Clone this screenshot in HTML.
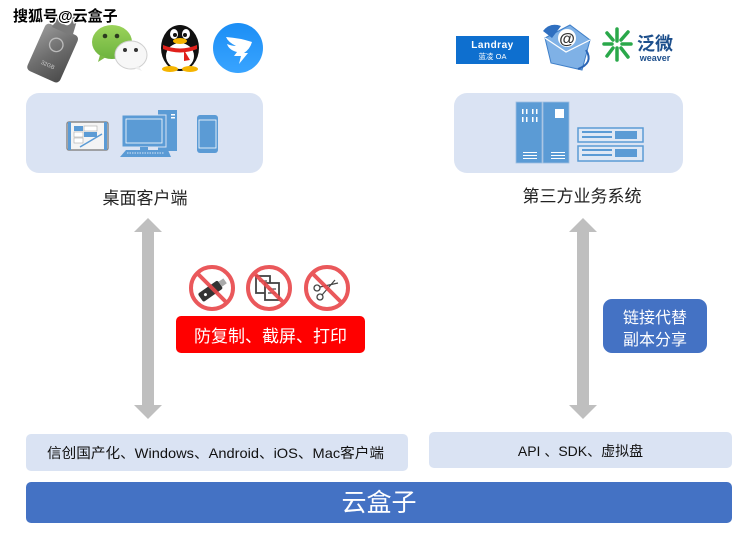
<!DOCTYPE html>
<html><head><meta charset="utf-8">
<style>
html,body{margin:0;padding:0;background:#fff;}
body{width:751px;height:549px;overflow:hidden;}
svg{display:block;}
text{font-family:"Liberation Sans","Noto Sans CJK SC",sans-serif;}
</style></head>
<body>
<svg width="751" height="549" viewBox="0 0 751 549" xmlns="http://www.w3.org/2000/svg">
<defs>
<linearGradient id="ding" x1="0" y1="0" x2="0" y2="1"><stop offset="0" stop-color="#1b8ef5"/><stop offset="1" stop-color="#39a4ff"/></linearGradient>
<linearGradient id="usb" x1="0" y1="0" x2="1" y2="1"><stop offset="0" stop-color="#9a9a9a"/><stop offset="0.5" stop-color="#6d6d6d"/><stop offset="1" stop-color="#4a4a4a"/></linearGradient>
<linearGradient id="wg" x1="0" y1="0" x2="0" y2="1"><stop offset="0" stop-color="#9bd35a"/><stop offset="1" stop-color="#6db33f"/></linearGradient>
</defs>

<!-- top-left app icons -->
<!-- USB drive -->
<g transform="translate(54 50) rotate(24) scale(1.12) translate(-54 -50)">
  <rect x="38" y="30" width="32" height="46" rx="4" fill="url(#usb)"/>
  <path d="M44 32 L46 17 Q54 10 62 17 L64 32 Z" fill="#7a7a7a"/>
  <ellipse cx="54" cy="21" rx="4" ry="4.5" fill="#fff"/>
  <circle cx="54" cy="45" r="6" fill="none" stroke="#bbb" stroke-width="1.2"/>
  <text x="48" y="66" font-size="5" fill="#ccc">32GB</text>
</g>
<!-- WeChat -->
<ellipse cx="112" cy="42" rx="20" ry="17" fill="url(#wg)"/>
<path d="M100 55 L98 62 L106 57 Z" fill="#7cba46"/>
<circle cx="105" cy="36" r="2.3" fill="#2c3a1f"/>
<circle cx="117" cy="36" r="2.3" fill="#2c3a1f"/>
<ellipse cx="131" cy="55" rx="16" ry="14" fill="#f7f7f7" stroke="#cfcfcf" stroke-width="1"/>
<path d="M138 66 L142 71 L134 68 Z" fill="#eee"/>
<circle cx="125" cy="50" r="2" fill="#333"/>
<circle cx="136" cy="50" r="2" fill="#333"/>
<!-- QQ penguin -->
<ellipse cx="180" cy="48" rx="19" ry="23" fill="#111"/>
<ellipse cx="180" cy="56" rx="14" ry="13" fill="#fff"/>
<ellipse cx="174" cy="34" rx="4" ry="5" fill="#fff"/>
<ellipse cx="186" cy="34" rx="4" ry="5" fill="#fff"/>
<circle cx="175" cy="35" r="2" fill="#111"/>
<circle cx="185" cy="35" r="2" fill="#111"/>
<ellipse cx="180" cy="41" rx="7" ry="3" fill="#f5b400"/>
<path d="M163 45 Q180 52 197 45 L197 49 Q180 56 163 49 Z" fill="#e0201b"/>
<path d="M184 50 L190 60 L184 61 Z" fill="#e0201b"/>
<ellipse cx="170" cy="69" rx="8" ry="3" fill="#f5b400"/>
<ellipse cx="190" cy="69" rx="8" ry="3" fill="#f5b400"/>
<!-- DingTalk -->
<circle cx="238" cy="48" r="25" fill="url(#ding)"/>
<path d="M226 37 Q240 38 252 42 Q250 49 244 53 L248 53 L239 64 L241 56 L234 56 L237 52 Q229 50 227 44 Q232 46 236 46 Q228 42 226 37 Z" fill="#fff"/>

<!-- watermark -->
<text x="13" y="21" font-size="15" font-weight="bold" fill="#000" stroke="#fff" stroke-width="2.5" paint-order="stroke">搜狐号@云盒子</text>

<!-- top boxes -->
<rect x="26" y="93" width="237" height="80" rx="13" fill="#dae3f3"/>
<rect x="454" y="93" width="229" height="80" rx="13" fill="#dae3f3"/>

<!-- tablet -->
<rect x="67" y="122" width="41" height="28" rx="2" fill="#f4f4f4" stroke="#8a8a8a" stroke-width="1.5"/>
<rect x="68" y="122" width="3" height="28" fill="#5b9bd5"/>
<rect x="104" y="122" width="3" height="28" fill="#5b9bd5"/>
<rect x="74" y="126" width="9" height="5" fill="#5b9bd5"/>
<rect x="84" y="126" width="13" height="5" fill="#fff" stroke="#aaa" stroke-width="0.6"/>
<rect x="74" y="132" width="9" height="5" fill="#fff" stroke="#aaa" stroke-width="0.6"/>
<rect x="84" y="132" width="13" height="5" fill="#5b9bd5"/>
<rect x="74" y="138" width="9" height="5" fill="#fff" stroke="#aaa" stroke-width="0.6"/>
<line x1="80" y1="147" x2="102" y2="134" stroke="#5b9bd5" stroke-width="1.5"/>
<!-- monitor -->
<rect x="158" y="110" width="19" height="41" fill="#5b9bd5"/>
<rect x="171" y="114" width="4" height="1.5" fill="#fff"/>
<rect x="171" y="117" width="4" height="1.5" fill="#fff"/>
<rect x="122" y="115" width="44" height="32" fill="#5b9bd5" stroke="#dae3f3" stroke-width="1"/>
<rect x="126" y="119" width="36" height="24" fill="#5b9bd5" stroke="#fff" stroke-width="0.8"/>
<rect x="140" y="147" width="8" height="3" fill="#5b9bd5"/>
<path d="M126 150 L168 150 L171 157 L120 157 Z" fill="#5b9bd5"/>
<line x1="127" y1="153" x2="164" y2="153" stroke="#fff" stroke-width="0.8" stroke-dasharray="1.5 1"/>
<!-- phone -->
<rect x="197" y="115" width="21" height="38" rx="3" fill="#5b9bd5"/>
<rect x="199" y="120" width="17" height="28" fill="#5b9bd5" stroke="#fff" stroke-width="0.8"/>

<text x="145" y="204" font-size="17" fill="#222" text-anchor="middle">桌面客户端</text>

<!-- top-right logos -->
<rect x="456" y="36" width="73" height="28" fill="#0e6fcf"/>
<text x="492.5" y="48" font-size="10" font-weight="bold" fill="#fff" text-anchor="middle" letter-spacing="0.5">Landray</text>
<text x="492.5" y="59" font-size="7.5" fill="#fff" text-anchor="middle">蓝凌 OA</text>
<!-- email -->
<path d="M545 38 L570 25 L590 40 L582 70 L551 63 Z" fill="#7fb1e6" stroke="#3f7fc8" stroke-width="1"/>
<path d="M545 38 L566 52 L590 40" fill="none" stroke="#fff" stroke-width="1.2"/>
<circle cx="567" cy="38" r="9" fill="#fff"/>
<text x="567" y="44" font-size="16" font-weight="bold" fill="#333" text-anchor="middle">@</text>
<path d="M543 31 Q550 22 561 26 L552 38 Z" fill="#2f6fc0"/>
<path d="M586 50 Q594 63 578 69" fill="none" stroke="#2a64b5" stroke-width="2"/>
<!-- weaver -->
<g stroke="#2aa84a" stroke-width="3.5" stroke-linecap="round">
  <line x1="617" y1="29" x2="617" y2="41"/>
  <line x1="617" y1="48" x2="617" y2="60"/>
  <line x1="604" y1="44" x2="612" y2="44"/>
  <line x1="622" y1="44" x2="631" y2="44"/>
  <line x1="607" y1="33" x2="613" y2="40"/>
  <line x1="628" y1="32" x2="621" y2="40"/>
  <line x1="607" y1="56" x2="613" y2="48"/>
  <line x1="628" y1="57" x2="621" y2="48"/>
</g>
<text x="655" y="50" font-size="18" font-weight="bold" fill="#1d4f8c" text-anchor="middle">泛微</text>
<text x="655" y="61" font-size="9" font-weight="bold" fill="#1d4f8c" text-anchor="middle">weaver</text>

<!-- servers -->
<rect x="516" y="102" width="26" height="61" fill="#5b9bd5" stroke="#9fbfe0" stroke-width="0.8"/>
<rect x="543" y="102" width="26" height="61" fill="#5b9bd5" stroke="#9fbfe0" stroke-width="0.8"/>
<g fill="#fff">
  <rect x="522" y="109" width="1.5" height="5"/><rect x="526" y="109" width="1.5" height="5"/><rect x="532" y="109" width="1.5" height="5"/><rect x="536" y="109" width="1.5" height="5"/>
  <rect x="522" y="117" width="1.5" height="5"/><rect x="526" y="117" width="1.5" height="5"/><rect x="532" y="117" width="1.5" height="5"/><rect x="536" y="117" width="1.5" height="5"/>
  <rect x="555" y="109" width="9" height="9"/>
  <rect x="523" y="152" width="14" height="1"/><rect x="523" y="155" width="14" height="1"/><rect x="523" y="158" width="14" height="1"/>
  <rect x="551" y="152" width="14" height="1"/><rect x="551" y="155" width="14" height="1"/><rect x="551" y="158" width="14" height="1"/>
</g>
<g>
  <rect x="578" y="128" width="65" height="14" fill="#dfe8f5" stroke="#5b9bd5" stroke-width="1.5"/>
  <rect x="582" y="131" width="30" height="2" fill="#5b9bd5"/><rect x="582" y="136" width="30" height="2" fill="#5b9bd5"/>
  <rect x="615" y="131" width="22" height="8" fill="#5b9bd5"/>
  <rect x="578" y="146" width="65" height="15" fill="#dfe8f5" stroke="#5b9bd5" stroke-width="1.5"/>
  <rect x="582" y="149" width="30" height="2" fill="#5b9bd5"/><rect x="582" y="154" width="30" height="2" fill="#5b9bd5"/>
  <rect x="615" y="149" width="22" height="8" fill="#5b9bd5"/>
</g>
<text x="582" y="202" font-size="17" fill="#222" text-anchor="middle">第三方业务系统</text>

<!-- arrows -->
<polygon points="148,218 162,232 154,232 154,405 162,405 148,419 134,405 142,405 142,232 134,232" fill="#bfbfbf"/>
<polygon points="583,218 597,232 589,232 589,405 597,405 583,419 569,405 577,405 577,232 569,232" fill="#bfbfbf"/>

<!-- prohibited icons -->
<g>
  <circle cx="212" cy="288" r="21" fill="#fff"/>
  <g transform="rotate(-35 212 290)">
    <rect x="198" y="285" width="24" height="10" rx="2" fill="#333"/>
    <rect x="222" y="287" width="6" height="6" fill="#aaa"/>
    <circle cx="204" cy="290" r="1.5" fill="#fff"/>
  </g>
  <circle cx="269" cy="288" r="21" fill="#fff"/>
  <rect x="256" y="276" width="14" height="17" fill="#fff" stroke="#444" stroke-width="1.8"/>
  <rect x="265" y="283" width="14" height="17" fill="#fff" stroke="#444" stroke-width="1.8"/>
  <line x1="259" y1="281" x2="267" y2="281" stroke="#444" stroke-width="1.2"/>
  <line x1="268" y1="289" x2="276" y2="289" stroke="#444" stroke-width="1.2"/>
  <line x1="268" y1="293" x2="276" y2="293" stroke="#444" stroke-width="1.2"/>
  <circle cx="327" cy="288" r="21" fill="#fff"/>
  <circle cx="317" cy="288" r="3" fill="none" stroke="#444" stroke-width="1.3"/>
  <circle cx="320" cy="297" r="3" fill="none" stroke="#444" stroke-width="1.3"/>
  <line x1="320" y1="287" x2="338" y2="283" stroke="#444" stroke-width="1.2"/>
  <line x1="322" y1="295" x2="335" y2="280" stroke="#444" stroke-width="1.2"/>
  <g fill="none" stroke="#e8474a" stroke-width="4" opacity="0.9">
    <circle cx="212" cy="288" r="21"/>
    <line x1="197" y1="273" x2="227" y2="303"/>
    <circle cx="269" cy="288" r="21"/>
    <line x1="254" y1="273" x2="284" y2="303"/>
    <circle cx="327" cy="288" r="21"/>
    <line x1="312" y1="273" x2="342" y2="303"/>
  </g>
</g>

<!-- red label -->
<rect x="176" y="316" width="189" height="37" rx="5" fill="#ff0000"/>
<text x="270.5" y="342" font-size="17" fill="#fff" text-anchor="middle">防复制、截屏、打印</text>

<!-- blue label -->
<rect x="603" y="299" width="104" height="54" rx="9" fill="#4472c4"/>
<text x="655" y="323" font-size="16" fill="#fff" text-anchor="middle">链接代替</text>
<text x="655" y="345" font-size="16" fill="#fff" text-anchor="middle">副本分享</text>

<!-- bottom boxes -->
<rect x="26" y="434" width="382" height="37" rx="5" fill="#dae3f3"/>
<text x="215.5" y="458" font-size="14" fill="#111" text-anchor="middle" textLength="337" lengthAdjust="spacingAndGlyphs">信创国产化、Windows、Android、iOS、Mac客户端</text>
<rect x="429" y="432" width="303" height="36" rx="5" fill="#dae3f3"/>
<text x="580.5" y="456" font-size="14" fill="#111" text-anchor="middle">API 、SDK、虚拟盘</text>

<rect x="26" y="482" width="706" height="41" rx="5" fill="#4472c4"/>
<text x="379" y="511" font-size="25" fill="#fff" text-anchor="middle">云盒子</text>
</svg>
</body></html>
